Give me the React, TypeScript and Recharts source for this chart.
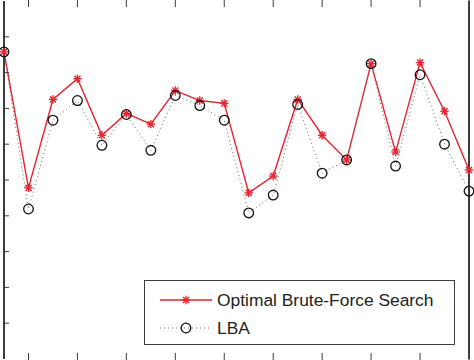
import React from "react";
import { LineChart, Line, XAxis, YAxis, Legend } from "recharts";

const steps = [1, 2, 3, 4, 5, 6, 7, 8, 9, 10, 11, 12, 13, 14, 15, 16, 17, 18, 19, 20];
const bruteForce = [8.58, 4.78, 7.25, 7.83, 6.25, 6.86, 6.56, 7.5, 7.22, 7.14, 4.64, 5.11, 7.25, 6.25, 5.56, 8.25, 5.78, 8.28, 6.92, 5.28];
const lba = [8.58, 4.19, 6.67, 7.22, 5.97, 6.83, 5.83, 7.36, 7.08, 6.67, 4.08, 4.58, 7.11, 5.19, 5.56, 8.25, 5.39, 7.94, 6.0, 4.69];
const xTicks = [2, 4, 6, 8, 10, 12, 14, 16, 18, 20];
const yTicks = [1, 2, 3, 4, 5, 6, 7, 8, 9];
const seriesNames = ["Optimal Brute-Force Search", "LBA"];

const data = steps.map((s, i) => ({ step: s, brute: bruteForce[i], lba: lba[i] }));

const RED = "#e8232f";
const AXIS = "#3c3c3c";

const Star = ({ cx, cy, r = 4.2 }: { cx: number; cy: number; r?: number }) => {
    const d = r * 0.72;
    return (
        <g stroke={RED} strokeWidth={1.4}>
            <line x1={cx - r} y1={cy} x2={cx + r} y2={cy} />
            <line x1={cx} y1={cy - r} x2={cx} y2={cy + r} />
            <line x1={cx - d} y1={cy - d} x2={cx + d} y2={cy + d} />
            <line x1={cx - d} y1={cy + d} x2={cx + d} y2={cy - d} />
        </g>
    );
};

const Ring = ({ cx, cy }: { cx: number; cy: number }) => (
    <circle cx={cx} cy={cy} r={4.8} fill="none" stroke="#111" strokeWidth={1.3} />
);

// MATLAB-style inward tick marks
const tickLeft = (p: any) => <line x1={p.x} x2={p.x + 5} y1={p.y} y2={p.y} stroke={AXIS} strokeWidth={1} />;
const tickRight = (p: any) => <line x1={p.x - 5} x2={p.x} y1={p.y} y2={p.y} stroke={AXIS} strokeWidth={1} />;
const tickBottom = (p: any) => <line x1={p.x} x2={p.x} y1={p.y - 6} y2={p.y + 1} stroke={AXIS} strokeWidth={1} />;
const tickTop = (p: any) => <line x1={p.x} x2={p.x} y1={p.y - 1} y2={p.y + 6} stroke={AXIS} strokeWidth={1} />;

const LegendBox = () => (
    <svg width={311} height={65}>
        <rect x={0.5} y={0.5} width={310} height={64} fill="#fff" stroke={AXIS} strokeWidth={1} />
        <line x1={16} x2={68} y1={20} y2={20} stroke={RED} strokeWidth={1.4} />
        <Star cx={42} cy={20} />
        <text x={73} y={26} fontFamily="'Liberation Sans', Arial, sans-serif" fontSize={17.4} fill="#222">
            {seriesNames[0]}
        </text>
        <line x1={16} x2={68} y1={48} y2={48} stroke="#666" strokeWidth={1} strokeDasharray="1 3" />
        <Ring cx={42} cy={48} />
        <text x={73} y={54} fontFamily="'Liberation Sans', Arial, sans-serif" fontSize={17.4} fill="#222">
            {seriesNames[1]}
        </text>
    </svg>
);

export default function App() {
    return (
        <div style={{ position: "absolute", left: 0, top: 0, background: "#fff" }}>
            <LineChart width={474} height={360} data={data} margin={{ top: 0, right: 4, bottom: 0, left: 3 }}>
                <XAxis dataKey="step" type="number" domain={[1, 20]} ticks={xTicks} interval={0}
                    height={1} tickSize={0} tickMargin={0} tickLine={false} tick={tickBottom}
                    axisLine={false} />
                <XAxis xAxisId="t" orientation="top" dataKey="step" type="number" domain={[1, 20]} ticks={xTicks}
                    interval={0} height={1} tickSize={0} tickMargin={0} tickLine={false} tick={tickTop}
                    axisLine={false} />
                <YAxis type="number" domain={[0, 10]} ticks={yTicks} interval={0} width={1}
                    tickSize={0} tickMargin={0} tickLine={false} tick={tickLeft}
                    axisLine={{ stroke: AXIS, strokeWidth: 2 }} />
                <YAxis yAxisId="r" orientation="right" type="number" domain={[0, 10]} ticks={yTicks} interval={0}
                    width={1} tickSize={0} tickMargin={0} tickLine={false} tick={tickRight}
                    axisLine={{ stroke: AXIS, strokeWidth: 2 }} />
                <Legend layout="horizontal" verticalAlign="middle" align="center"
                    wrapperStyle={{ left: 144, top: 280, width: 311, height: 65, bottom: "auto" }}
                    content={() => <LegendBox />} />
                <Line dataKey="brute" name={seriesNames[0]} type="linear" stroke={RED} strokeWidth={1.4}
                    isAnimationActive={false}
                    dot={(p: any) => <Star key={`s${p.index}`} cx={p.cx} cy={p.cy} />} />
                <Line dataKey="lba" name={seriesNames[1]} type="linear" stroke="#666" strokeWidth={1}
                    strokeDasharray="1 3" isAnimationActive={false}
                    dot={(p: any) => <Ring key={`c${p.index}`} cx={p.cx} cy={p.cy} />} />
            </LineChart>
        </div>
    );
}
